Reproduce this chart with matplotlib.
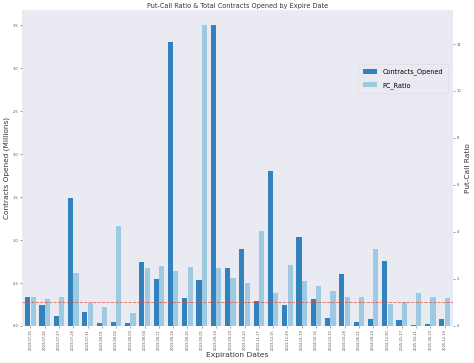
import numpy as np
import matplotlib
matplotlib.use("Agg")
import matplotlib.pyplot as plt

# Expiration dates (x categories)
expire_dates = [
    "2023-07-25", "2023-07-26", "2023-07-27", "2023-07-28", "2023-07-31",
    "2023-08-01", "2023-08-02", "2023-08-03", "2023-08-04", "2023-08-11",
    "2023-08-18", "2023-08-25", "2023-09-01", "2023-09-15", "2023-09-29",
    "2023-10-20", "2023-11-17", "2023-12-15", "2023-12-29", "2024-01-19",
    "2024-02-16", "2024-03-15", "2024-03-28", "2024-06-21", "2024-09-20",
    "2024-12-20", "2025-01-17", "2025-03-21", "2025-06-20", "2025-12-19",
]

# Contracts opened, in millions (left axis)
contracts_opened = [
    0.335, 0.24, 0.12, 1.49, 0.16, 0.04, 0.05, 0.03, 0.75, 0.55,
    3.31, 0.32, 0.54, 3.50, 0.68, 0.90, 0.29, 1.80, 0.24, 1.04,
    0.31, 0.09, 0.61, 0.05, 0.08, 0.76, 0.07, 0.01, 0.02, 0.08,
]

# Put-call ratio (right axis)
pc_ratio = [
    1.22, 1.16, 1.25, 2.24, 0.99, 0.80, 4.24, 0.54, 2.48, 2.55,
    2.35, 2.51, 12.80, 2.48, 2.06, 1.83, 4.06, 1.42, 2.58, 1.91,
    1.69, 1.48, 1.25, 1.25, 3.26, 0.92, 1.03, 1.42, 1.23, 1.19,
]

DARK = "#3182bd"
LIGHT = "#9ecae1"
BG = "#EAEAF2"
TXT = "#333333"

fig = plt.figure(figsize=(4.74, 3.63), dpi=100)
ax = fig.add_axes([0.046, 0.102, 0.910, 0.870])
ax2 = ax.twinx()

x = np.arange(len(expire_dates))
w = 0.36

b1 = ax.bar(x - 0.19, contracts_opened, width=w, color=DARK, label="Contracts_Opened")
b2 = ax2.bar(x + 0.19, pc_ratio, width=w, color=LIGHT, label="PC_Ratio")
ax2.axhline(1.0, color="#e24a33", linestyle="--", linewidth=0.6, alpha=0.8)

ax.set_facecolor(BG)
ax.set_xlim(-0.6, len(x) - 0.4)
ax.set_yticks([0.0, 0.5, 1.0, 1.5, 2.0, 2.5, 3.0, 3.5])
ax2.set_yticks([0, 2, 4, 6, 8, 10, 12])
ax.set_xticks(x)
ax.set_xticklabels(expire_dates, rotation=90)

for a in (ax, ax2):
    for s in a.spines.values():
        s.set_visible(False)
    a.tick_params(axis="both", labelsize=2.6, length=1.5, width=0.4,
                  colors="#555555", pad=1)

ax.set_title("Put-Call Ratio & Total Contracts Opened by Expire Date",
             fontsize=4.7, color=TXT, pad=1.5)
ax.set_xlabel("Expiration Dates", fontsize=5.4, color=TXT, labelpad=1)
ax.set_ylabel("Contracts Opened (Millions)", fontsize=5.3, color=TXT, labelpad=2)
ax2.set_ylabel("Put-Call Ratio", fontsize=5.3, color=TXT, labelpad=3)

leg = ax.legend([b1, b2], ["Contracts_Opened", "PC_Ratio"],
                loc="upper right", bbox_to_anchor=(0.995, 0.84),
                fontsize=4.7, frameon=True, handlelength=2.2,
                borderpad=0.7, labelspacing=1.0)
leg.get_frame().set_facecolor(BG)
leg.get_frame().set_edgecolor("#dddddd")
leg.get_frame().set_linewidth(0.5)

fig.savefig("out.png", dpi=100)
